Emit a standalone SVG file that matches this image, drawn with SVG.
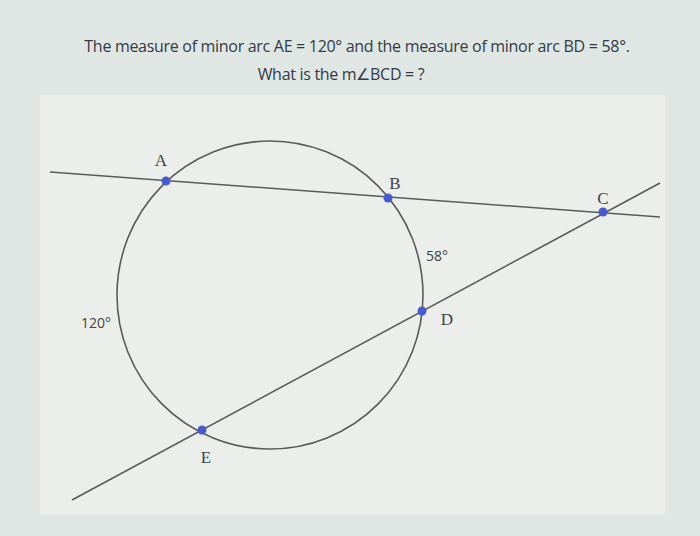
<svg xmlns="http://www.w3.org/2000/svg" width="700" height="536" viewBox="0 0 700 536">
<style>
.t{font-family:"Open Sans","Liberation Sans",sans-serif;font-size:16px;fill:#343a44;letter-spacing:-0.3px}
.lbl{font-family:"Liberation Serif",serif;font-size:17px;fill:#3e4444}
.deg{font-family:"Open Sans","Liberation Sans",sans-serif;font-size:14px;fill:#3e4444}
.ln{stroke:#565c5c;stroke-width:1.6;fill:none}
.pt{fill:#4a5ac8}
</style>
<rect width="700" height="536" fill="#dfe6e4"/>
<rect x="40" y="95" width="625" height="420" fill="#eceeec"/>
<text class="t" x="357" y="52" text-anchor="middle">The measure of minor arc AE = 120° and the measure of minor arc BD = 58°.</text>
<text class="t" x="341" y="80" text-anchor="middle">What is the m∠BCD = ?</text>
<g id="connectors">
<ellipse class="ln" cx="270" cy="295" rx="153" ry="154"/>
<line class="ln" x1="50" y1="172" x2="660" y2="217"/>
<line class="ln" x1="72" y1="500" x2="660" y2="183"/>
</g>
<g id="A"><circle class="pt" cx="166" cy="181" r="4.5"/><text class="lbl" x="161" y="166" text-anchor="middle">A</text></g>
<g id="B"><circle class="pt" cx="388" cy="198" r="4.5"/><text class="lbl" x="395" y="189" text-anchor="middle">B</text></g>
<g id="C"><circle class="pt" cx="603" cy="212" r="4.5"/><text class="lbl" x="603" y="204" text-anchor="middle">C</text></g>
<g id="D"><circle class="pt" cx="422" cy="311" r="4.5"/><text class="lbl" x="447" y="325" text-anchor="middle">D</text></g>
<g id="E"><circle class="pt" cx="202" cy="430" r="4.5"/><text class="lbl" x="206" y="463" text-anchor="middle">E</text></g>
<g id="arcAE"><text class="deg" x="96" y="328" text-anchor="middle">120°</text></g>
<g id="arcBD"><text class="deg" x="437" y="261" text-anchor="middle">58°</text></g>
</svg>
